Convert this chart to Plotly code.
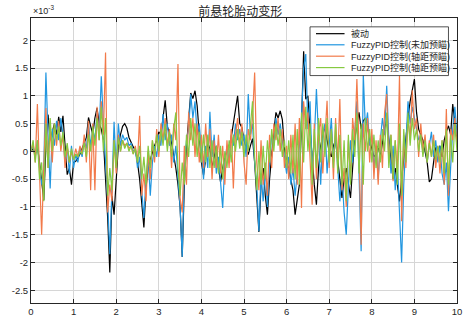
import numpy as np
import plotly.graph_objects as go

# sampling step of the simulation output (s)
dt = 0.05
t = np.arange(201) * dt

# tyre dynamic deflection, in units of 1e-3 m
passive = [
    0.0, 0.05, -0.05, 0.1, -0.2, -0.5, -0.88, 0.1, 0.66, 0.2,
    0.35, 0.5, 0.3, 0.62, 0.35, 0.64, 0.1, -0.42, -0.3, -0.6,
    -0.2, -0.18, -0.12, -0.05, 0.05, 0.15, 0.25, 0.61, 0.45, 0.3,
    0.6, 0.78, 0.5, 0.4, 0.2, -0.5, -1.2, -2.18, -0.8, -1.14,
    -0.55, 0.1, 0.3, 0.45, 0.5, 0.42, 0.25, 0.15, 0.08, 0.02,
    -0.2, -0.5, -0.9, -1.37, -0.65, -0.3, -0.15, 0.0, 0.1, 0.2,
    0.35, 0.3, 0.6, 0.92, 0.45, 0.33, 0.15, -0.05, -0.3, -0.6,
    -1.0, -1.9, -0.6, 0.1, 0.6, 1.05, 0.95, 1.09, 0.82, 0.3,
    -0.2, -0.43, -0.1, 0.15, 0.05, -0.3, -0.1, 0.1, -0.3, -0.55,
    -0.3, -0.1, 0.0, 0.1, 0.25, 0.5, 0.7, 1.0, 0.5, 0.43,
    0.2, 0.05, -0.06, 0.1, 0.23, -0.2, -0.8, -1.45, -0.6, -0.3,
    -0.8, -1.14, -0.5, 0.0, 0.35, 0.7, 0.6, 0.73, 0.57, 0.05,
    -0.2, -0.31, -0.5, -0.7, -1.14, -0.9, -0.6, 0.5, 1.8, 0.94,
    1.0, 0.4, -0.2, -0.6, -0.96, -0.3, 0.1, 0.3, 0.46, 0.2,
    0.0, -0.1, 0.1, 0.2, -0.2, -0.5, -0.84, -0.5, -0.3, -0.6,
    -0.84, -0.3, 0.2, 0.5, 0.7, 0.4, 0.55, 0.6, 0.46, 0.2,
    0.05, -0.1, -0.05, 0.1, -0.1, 0.2, 0.4, 0.58, 0.2, -0.2,
    -0.5, -0.3, -0.6, -0.9, -0.5, -0.1, 0.2, 0.6, 0.9, 1.1,
    1.3, 0.7, 0.4, 0.3, 0.2, 0.0, -0.2, -0.55, -0.5, -0.2,
    0.07, 0.0, 0.1, -0.1, 0.2, 0.35, 0.46, 0.3, 0.85, 0.5,
    0.2,
]

fuzzy_no_preview = [
    0.0, 0.1, -0.1, 0.2, -0.3, -0.6, -0.3, 1.42, 0.3, -0.67,
    0.4, 0.1, 0.55, 0.2, 0.6, 0.3, -0.2, 0.1, -0.4, 0.1,
    -0.3, -0.05, -0.2, 0.05, -0.1, 0.2, 0.05, 0.5, 0.1, 0.4,
    0.2, 0.7, 0.3, 1.35, 0.5, -0.2, -0.9, -1.85, -0.5, 0.53,
    -0.3, 0.5, 0.1, 0.3, 0.2, 0.25, 0.1, 0.15, 0.0, 0.05,
    -0.3, -0.1, -0.7, -1.2, -0.5, -0.1, -0.8, -0.2, 0.1, -0.1,
    0.3, 0.1, 0.67, 0.2, 0.5, 0.1, 0.3, -0.2, 0.1, -0.5,
    -1.0, -1.9, -0.3, 0.2, 0.4, 1.03, 0.6, 0.9, 0.3, 0.5,
    -0.1, -0.5, 0.1, -0.3, 0.71, -0.1, 0.3, -0.4, -0.1, -0.6,
    -1.02, -0.2, 0.1, -0.2, 0.3, 0.1, 0.5, 0.2, 0.4, 0.1,
    0.3, -0.1, 1.03, 0.3, 0.5, -0.2, -0.6, -1.44, -0.4, -0.9,
    -0.3, -1.0, -0.2, 0.3, 0.1, 0.6, 0.3, 0.5, 0.2, -0.1,
    -0.4, -0.1, -0.6, -0.3, -0.8, -0.4, 0.2, 0.6, 1.5, 1.75,
    0.4, 0.9, -0.3, 0.2, 1.12, 0.2, -0.6, 0.3, 0.5, -0.4,
    0.2, 0.6, -0.2, 0.3, -0.3, -0.9, -0.4, -1.1, -1.5, -0.5,
    0.2, -0.2, 0.4, 0.9, -0.4, -1.8, 1.39, 0.4, 0.7, 0.1,
    0.3, -0.3, 0.1, -0.5, 0.2, 0.6, 0.3, 1.18, 0.2, -0.4,
    0.1, -0.7, -0.2, -1.2, -2.0, -0.6, 0.3, 0.9, 0.5, 0.8,
    0.6, 0.4, 0.2, 0.3, 0.0, 0.2, -0.2, 0.1, 0.35, -0.1,
    0.2, -0.2, 0.1, -0.4, -0.6, -0.2, -1.08, -0.3, 0.4, 0.8,
    0.3,
]

fuzzy_preview_a = [
    0.0, 0.15, -0.2, 0.85, -0.4, -1.5, -0.3, 0.78, -0.3, 0.4,
    -0.2, 0.5, 0.1, 0.55, 0.0, 0.3, -0.3, 0.1, -0.2, 0.0,
    -0.15, 0.05, -0.1, 0.1, -0.05, 0.3, -0.2, 0.55, -0.7, 0.5,
    -0.7, 0.8, 0.2, 0.9, 0.3, 1.78, -1.1, -0.6, -0.9, 0.2,
    -0.4, 0.3, 0.0, 0.2, 0.1, 0.15, 0.05, 0.1, -0.05, 0.1,
    -0.2, 0.64, -0.8, -0.4, -0.9, 0.0, -0.5, 0.2, -0.2, 0.4,
    -0.1, 0.5, 0.2, 0.6, 0.1, 0.4, -0.3, 0.5, 0.2, 1.57,
    -0.84, -1.1, 0.1, -0.6, 0.7, 0.2, 0.6, -0.1, 0.5, -0.2,
    0.3, -0.3, 0.5, -0.1, 0.4, -0.5, 0.2, -0.3, 0.3, -0.4,
    0.1, -0.6, 0.2, -0.3, 0.4, -0.67, 0.3, 0.6, 0.1, 0.5,
    -0.2, -0.6, 0.4, 0.2, 0.6, 1.42, -0.2, -0.7, 0.2, -0.6,
    -0.2, -0.8, 0.3, -0.3, 0.5, 0.2, 0.6, 0.0, 0.4, -0.3,
    0.1, -0.5, 0.3, -0.4, 0.5, -0.6, 0.6, -1.02, 0.9, 0.4,
    0.7, -0.3, -0.96, 0.5, -0.5, 0.3, 0.6, -0.4, 0.3, 0.91,
    -0.3, 0.4, -0.5, 0.6, -0.2, 0.94, -0.7, -0.3, -1.0, 0.2,
    -0.5, 0.6, 0.2, 1.3, 0.1, -1.68, 0.5, 0.0, 0.6, -0.2,
    0.4, -0.5, 0.2, -0.6, 0.3, -0.3, 0.7, 1.03, -0.2, 0.3,
    -0.54, 0.2, -0.4, 1.36, -1.26, 0.3, -0.3, 0.6, 0.2, 1.1,
    0.4, 0.6, -0.1, 0.5, 0.0, 0.3, -0.2, 0.2, -0.1, 0.3,
    -0.3, 0.1, -0.4, 0.2, -0.6, 0.76, -0.8, 0.4, 0.2, 0.6,
    0.1,
]

fuzzy_preview_b = [
    0.0, 0.2, -0.2, 0.2, -0.5, -0.2, -0.9, 0.5, -0.3, 0.6,
    0.0, 0.5, 0.2, 0.45, 0.1, 0.35, -0.1, 0.15, -0.2, 0.05,
    -0.15, -0.05, -0.1, 0.0, -0.05, 0.15, -0.1, 0.3, 0.0, 0.45,
    0.1, 0.6, 0.2, 0.8, 0.0, 0.6, -0.8, -0.3, -0.7, 0.2,
    -0.3, 0.25, 0.0, 0.2, 0.05, 0.15, 0.0, 0.1, -0.05, 0.05,
    -0.2, 0.1, -0.5, -0.1, -0.6, 0.1, -0.3, 0.2, -0.1, 0.3,
    0.0, 0.4, 0.1, 0.5, 0.0, 0.35, -0.1, 0.4, 0.7, -0.3,
    -0.8, -0.2, -0.6, 0.3, -0.1, 0.6, 0.1, 0.5, -0.1, 0.35,
    -0.2, 0.3, -0.2, 0.3, -0.3, 0.2, -0.3, 0.1, -0.4, 0.1,
    -0.5, 0.0, -0.3, 0.2, -0.2, 0.3, 0.0, 0.4, 0.05, 0.35,
    -0.1, 0.3, 0.0, 0.5, 0.9, -0.1, -0.7, 0.0, -0.6, 0.1,
    -0.5, 0.2, -0.2, 0.4, 0.0, 0.5, 0.1, 0.4, -0.1, 0.2,
    -0.3, 0.2, -0.4, 0.3, -0.5, 0.4, -0.6, 0.7, -0.2, 0.8,
    0.0, 0.5, -0.6, 0.4, -0.3, 0.6, -0.2, 0.5, -0.1, 0.6,
    -0.2, 0.4, -0.3, 0.5, -0.4, 0.3, -0.6, 0.2, -0.9, 0.3,
    -0.6, 0.4, -0.1, 0.7, -0.4, 0.5, -0.6, 0.6, 0.0, 0.4,
    -0.2, 0.3, -0.3, 0.2, -0.2, 0.4, 0.0, 0.7, -0.3, 0.3,
    -0.5, 0.2, -0.6, 0.5, -0.8, 0.4, -0.2, 0.7, 0.1, 0.6,
    0.2, 0.4, 0.0, 0.3, -0.1, 0.2, -0.2, 0.15, -0.1, 0.2,
    -0.15, 0.1, -0.2, 0.2, -0.4, 0.4, -0.6, 0.3, -0.2, 0.5,
    0.0,
]

series_names = ["被动", "FuzzyPID控制(未加预瞄)", "FuzzyPID控制(轴距预瞄)", "FuzzyPID控制(轴距预瞄)"]
series_data = [passive, fuzzy_no_preview, fuzzy_preview_a, fuzzy_preview_b]
series_colors = ["#000000", "#2196E0", "#F27A4A", "#86C940"]

x_ticks = list(range(0, 11))
y_ticks = [-2.5, -2, -1.5, -1, -0.5, 0, 0.5, 1, 1.5, 2]
y_ticktext = ["-2.5", "-2", "-1.5", "-1", "-0.5", "0", "0.5", "1", "1.5", "2"]

FONT = "Liberation Sans, Arial, Noto Sans CJK SC, sans-serif"
AXIS_COLOR = "#262626"

fig = go.Figure()
for name, ys, col in zip(series_names, series_data, series_colors):
    fig.add_trace(go.Scatter(x=t, y=ys, mode="lines", name=name,
                             line=dict(color=col, width=1.2), showlegend=False))

axis_common = dict(showline=True, linecolor=AXIS_COLOR, linewidth=1, mirror="ticks",
                   ticks="inside", ticklen=4, tickcolor=AXIS_COLOR,
                   showgrid=True, gridcolor="#D6D6D6", gridwidth=1, zeroline=False,
                   tickfont=dict(family=FONT, size=9.5, color=AXIS_COLOR))

fig.update_xaxes(range=[0, 10], tickvals=x_ticks, **axis_common)
fig.update_yaxes(range=[-2.73, 2.4], tickvals=y_ticks, ticktext=y_ticktext, **axis_common)

# legend box drawn in paper coordinates (upper right corner of the axes)
lx0, lx1, ly0, ly1 = 0.655, 0.980, 0.798, 0.969
row_y = [0.945, 0.906, 0.866, 0.826]
shapes = [dict(type="rect", xref="paper", yref="paper", x0=lx0, x1=lx1, y0=ly0, y1=ly1,
               line=dict(color=AXIS_COLOR, width=0.8), fillcolor="white", layer="above")]
annotations = []
for name, col, yy in zip(series_names, series_colors, row_y):
    shapes.append(dict(type="line", xref="paper", yref="paper", x0=0.669, x1=0.736, y0=yy, y1=yy,
                       line=dict(color=col, width=1.2), layer="above"))
    annotations.append(dict(xref="paper", yref="paper", x=0.746, y=yy, text=name, showarrow=False,
                            xanchor="left", yanchor="middle",
                            font=dict(family=FONT, size=9, color=AXIS_COLOR)))

# axis exponent label
annotations.append(dict(xref="paper", yref="paper", x=0.0, y=1.0, xanchor="left", yanchor="bottom",
                        text="×10<sup>-3</sup>", showarrow=False, yshift=0,
                        font=dict(family=FONT, size=9, color=AXIS_COLOR)))

fig.update_layout(
    width=474, height=335,
    margin=dict(l=19, r=12, t=18, b=32),
    paper_bgcolor="white", plot_bgcolor="white",
    title=dict(text="前悬轮胎动变形", x=0.507, xanchor="center", y=0.965, yanchor="middle",
               font=dict(family="Noto Sans CJK SC, sans-serif", size=12, color=AXIS_COLOR)),
    shapes=shapes, annotations=annotations,
)

fig.write_html("out.html")
